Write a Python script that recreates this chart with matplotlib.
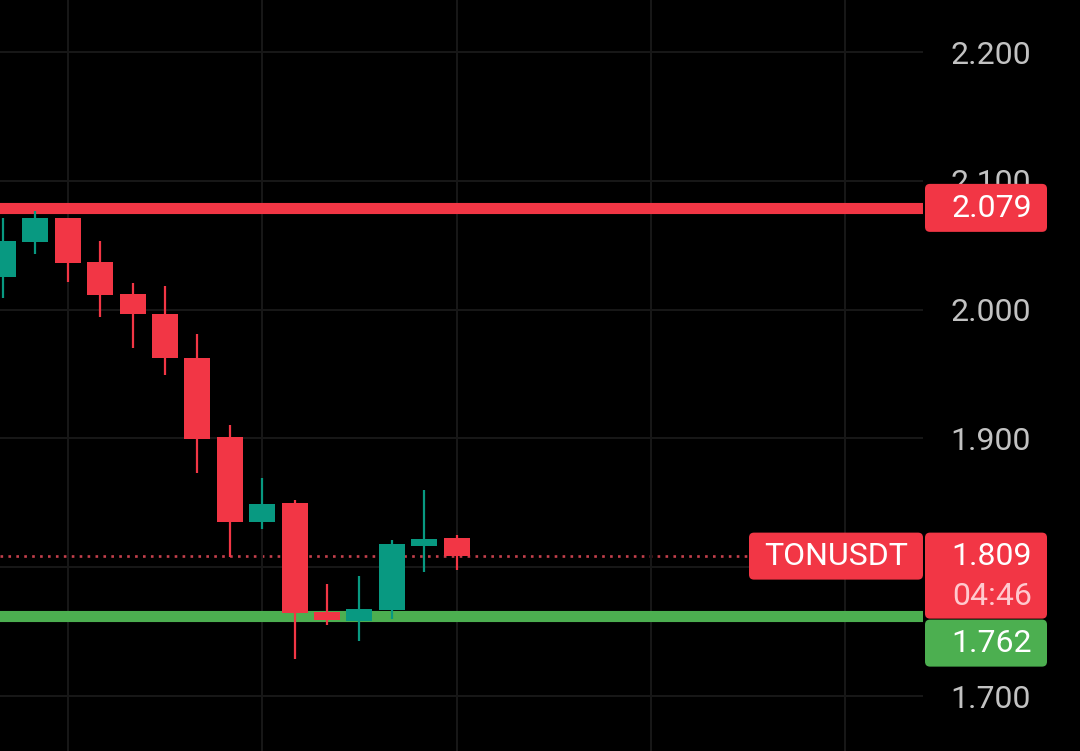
import numpy as np
import matplotlib.pyplot as plt
from matplotlib.patches import FancyBboxPatch
from matplotlib.transforms import IdentityTransform

# TONUSDT candles
opens = [2.0253, 2.0525, 2.0711, 2.0370, 2.0121, 1.9966, 1.9624, 1.9011,
         1.8351, 1.8498, 1.7652, 1.7582, 1.7668, 1.8165, 1.8227]
closes = [2.0533, 2.0711, 2.0362, 2.0113, 1.9966, 1.9624, 1.8995, 1.8351,
          1.8491, 1.7644, 1.7590, 1.7675, 1.8180, 1.8219, 1.8090]
highs = [2.0711, 2.0766, 2.0715, 2.0533, 2.0207, 2.0183, 1.9811, 1.9104,
         1.8693, 1.8522, 1.7870, 1.7932, 1.8211, 1.8599, 1.8250]
lows = [2.0090, 2.0432, 2.0214, 1.9943, 1.9702, 1.9492, 1.8731, 1.8079,
        1.8297, 1.7287, 1.7551, 1.7427, 1.7598, 1.7963, 1.7978]

resistance = 2.079
support = 1.762
last_price = 1.809
symbol = "TONUSDT"
countdown = "04:46"
y_ticks = [1.7, 1.8, 1.9, 2.0, 2.1, 2.2]
x_grid = [2, 8, 14, 20, 26]

RED = '#F23645'
GREEN = '#089981'
LINE_GREEN = '#4CAF50'

plt.rcParams['font.family'] = ['Roboto', 'DejaVu Sans']

fig = plt.figure(figsize=(10.8, 7.51), dpi=100, facecolor='black')
ax = fig.add_axes([0, 0, 923 / 1080, 1])
ax.set_facecolor('black')

x = np.arange(len(opens))
o = np.array(opens)
c = np.array(closes)
colors = [GREEN if cc >= oo else RED for oo, cc in zip(o, c)]

# level lines
ax.axhline(resistance, color=RED, lw=8, zorder=2)
ax.axhline(support, color=LINE_GREEN, lw=8, zorder=2)
ax.axhline(last_price, color='#c4404c', lw=1.9, ls=(0, (1, 2)), zorder=1)

# candles
ax.vlines(x, lows, highs, colors=colors, lw=1.6, zorder=3)
body_h = np.maximum(np.abs(c - o), 0.002)
ax.bar(x, body_h, bottom=np.minimum(o, c), width=0.8, color=colors, zorder=4)

ax.set_xlim(-0.0926, 28.395)
ax.set_ylim(1.6573, 2.2404)

ax.set_xticks(x_grid)
ax.set_yticks(y_ticks)
# 1.800 sits under the last-price tag, so it is left blank
ax.set_yticklabels(["" if abs(v - 1.8) < 1e-9 else "%.3f" % v for v in y_ticks])
ax.grid(True, color='#181818', lw=1.4, zorder=0)
ax.yaxis.tick_right()
ax.tick_params(axis='x', length=0, labelbottom=False)
ax.tick_params(axis='y', length=0, pad=19.5, labelsize=23, labelcolor='#c2c2c2')
for s in ax.spines.values():
    s.set_visible(False)


# price tags on the right scale (drawn in pixel coords)
def yd(price):
    return ax.transData.transform((0, price))[1]


def tag(x0, x1, y0, y1, color):
    p = FancyBboxPatch((x0, y0), x1 - x0, y1 - y0,
                       boxstyle="round,pad=0,rounding_size=5",
                       fc=color, ec='none', transform=IdentityTransform(), zorder=10)
    fig.add_artist(p)


def label(xp, yp, txt, color='white', ha='right'):
    fig.text(xp, yp, txt, color=color, fontsize=23, ha=ha, va='center',
             transform=IdentityTransform(), zorder=11)


yr = yd(resistance)
tag(925, 1047, yr - 24, yr + 24, RED)
label(1032, yr - 1, "%.3f" % resistance)

yl = yd(last_price)
tag(925, 1047, yl - 63, yl + 23, RED)
label(1032, yl - 1, "%.3f" % last_price)
label(1032, yl - 41, countdown, color='#ffc9ce')
tag(749, 923, yl - 24, yl + 23, RED)
label(836, yl - 1, symbol, ha='center')

tag(925, 1047, yl - 111, yl - 64, LINE_GREEN)
label(1032, yl - 88, "%.3f" % support)

fig.savefig('out.png', dpi=100, facecolor='black')
